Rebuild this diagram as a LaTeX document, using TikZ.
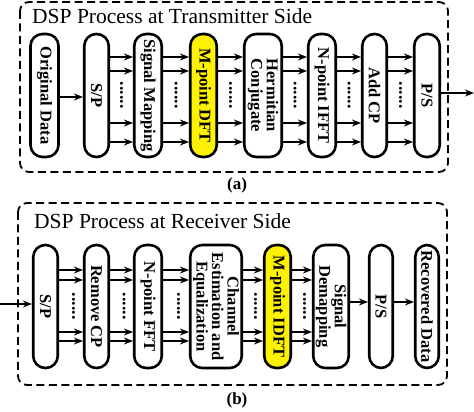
\documentclass[tikz,border=0pt]{standalone}
\usepackage{fontspec}
\setmainfont{Liberation Serif}
\usepackage{tikz}
\usetikzlibrary{arrows.meta}
\usetikzlibrary{calc}
\tikzset{blk/.style={draw=black,line width=2.6pt,rounded corners=12pt,rotate=-90,align=center,
           inner sep=1pt,minimum width=123pt,minimum height=#1,
           font=\bfseries\fontsize{16.5}{15.5}\selectfont},
         blk/.default=24.5pt,
         frame/.style={line width=1.8pt,dash pattern=on 8pt off 4.5pt,rounded corners=9pt},
         arr/.style={line width=1.8pt,-{Stealth[length=9pt,width=7pt]}},
         dots/.style={rotate=-90,inner sep=0pt,font=\bfseries\fontsize{18}{18}\selectfont},
         title/.style={anchor=base west,inner sep=0pt,font=\fontsize{21.5}{21.5}\selectfont},
         sub/.style={inner sep=0pt,font=\bfseries\fontsize{17}{17}\selectfont}}

\begin{document}
\begin{tikzpicture}[x=1pt,y=1pt]
\useasboundingbox (0,0) rectangle (474,412);

% transmitter
\draw[frame] (20,410) rectangle (448,240);
\node[title] (ttx) at (32,388) {DSP Process at Transmitter Side};
\node[blk=28pt] (od) at (44.5,316.5) {Original Data};
\node[blk] (sp) at (96.5,316.5) {S/P};
\node[blk=27.5pt] (sm) at (148,316.5) {Signal Mapping};
\node[blk=26.5pt,fill=yellow] (dft) at (203.5,316.5) {M-point DFT};
\node[blk=37.5pt] (hc) at (263,316.5) {Hermitian\\Conjugate};
\node[blk=27.5pt] (ifft) at (322,316.5) {N-point IFFT};
\node[blk] (acp) at (374.5,316.5) {Add CP};
\node[blk=25.5pt] (ps) at (427,316.5) {P/S};
\coordinate (tout) at (474,319);

\draw[arr] (od.north |- 0,315) -- (sp.south |- 0,315);
\foreach \a/\b in {sp/sm,sm/dft,dft/hc,hc/ifft,ifft/acp,acp/ps}
{
\foreach \y in {355,341,289,270}
  \draw[arr] (\a.north |- 0,\y) -- (\b.south |- 0,\y);
\node[dots] (d\a) at ($(\a.north)!0.5!(\b.south)$) {......};
}
\draw[arr] (ps.north |- tout) -- (tout);
\node[sub] (la) at (237,227) {(a)};

% receiver
\draw[frame] (18,209) rectangle (447,27);
\node[title] (trx) at (34,183) {DSP Process at Receiver Side};
\node[blk] (sp2) at (45.5,105.5) {S/P};
\node[blk] (rcp) at (96.5,105.5) {Remove CP};
\node[blk=27.5pt] (fft) at (148,105.5) {N-point FFT};
\node[blk=51.5pt] (ce) at (216,105.5) {Channel\\Estimation and\\Equalization};
\node[blk=26.5pt,fill=yellow] (idft) at (277.5,105.5) {M-point IDFT};
\node[blk=35.5pt] (sdm) at (331,105.5) {Signal\\Demapping};
\node[blk=23.5pt] (ps2) at (381,105.5) {P/S};
\node[blk=23.5pt] (rd) at (427,105.5) {Recovered Data};
\coordinate (rin) at (0,108);

\draw[arr] (rin) -- (sp2.south |- rin);
\foreach \a/\b in {sp2/rcp,rcp/fft,fft/ce,ce/idft,idft/sdm}
{
\foreach \y in {142,132,80,71}
  \draw[arr] (\a.north |- 0,\y) -- (\b.south |- 0,\y);
\node[dots,yshift=2.5pt] (d\a) at ($(\a.north)!0.5!(\b.south)$) {......};
}
\draw[arr] (sdm.north |- 0,110) -- (ps2.south |- 0,110);
\draw[arr] (ps2.north |- 0,110) -- (rd.south |- 0,110);
\node[sub] (lb) at (237,12) {(b)};
\end{tikzpicture}
\end{document}
